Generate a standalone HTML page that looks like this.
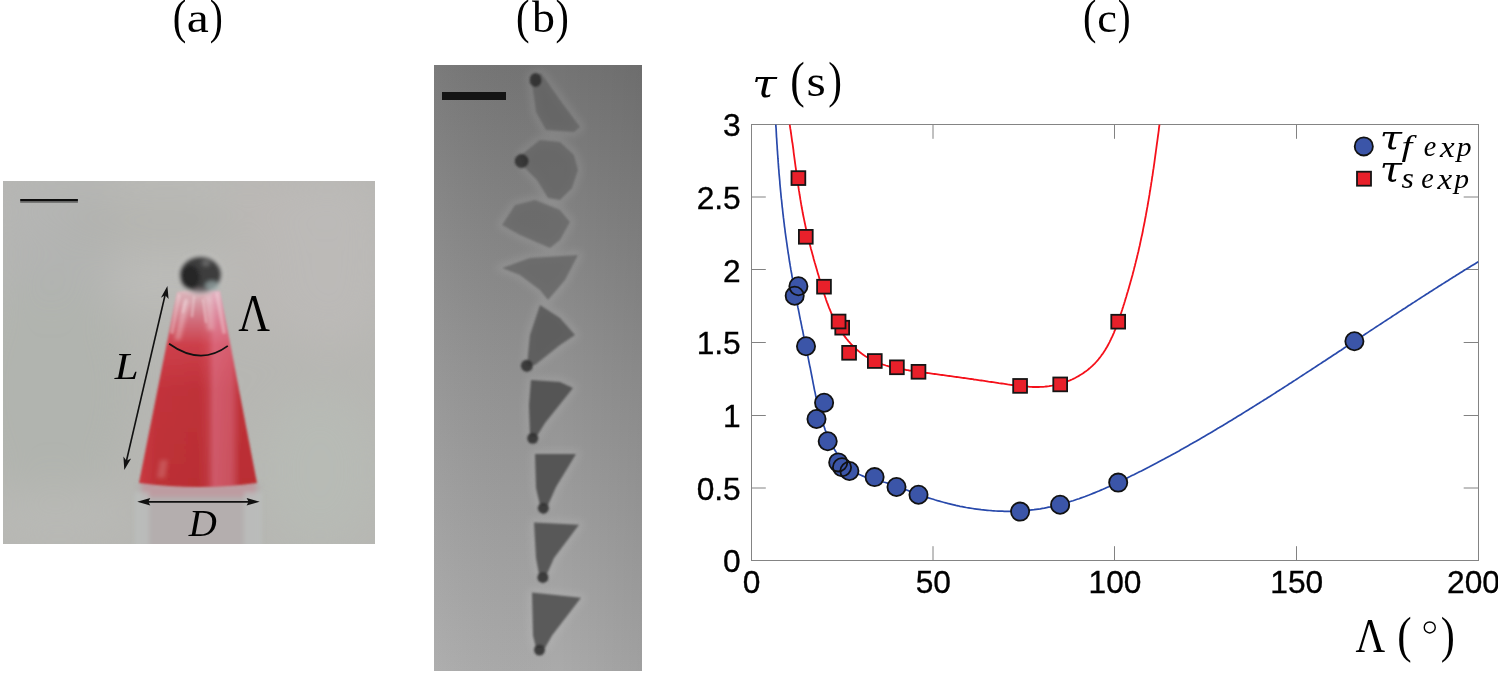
<!DOCTYPE html>
<html><head><meta charset="utf-8"><title>Figure</title>
<style>
html,body{margin:0;padding:0;background:#fff;}
body{width:1498px;height:674px;overflow:hidden;position:relative;}
svg{position:absolute;left:0;top:0;}
</style></head><body>
<svg width="1498" height="674" viewBox="0 0 1498 674">
<defs>
<filter id="bl1" x="-20%" y="-20%" width="140%" height="140%"><feGaussianBlur stdDeviation="1"/></filter>
<filter id="bl2" x="-20%" y="-20%" width="140%" height="140%"><feGaussianBlur stdDeviation="2"/></filter>
<filter id="bl4" x="-50%" y="-50%" width="200%" height="200%"><feGaussianBlur stdDeviation="4"/></filter>
<filter id="bl10" x="-50%" y="-50%" width="200%" height="200%"><feGaussianBlur stdDeviation="20"/></filter>
<clipPath id="clipA"><rect x="3" y="181" width="372" height="363"/></clipPath>
<clipPath id="clipB"><rect x="434" y="65" width="208" height="606"/></clipPath>
<linearGradient id="coneV" x1="0" y1="290" x2="0" y2="490" gradientUnits="userSpaceOnUse"><stop offset="0" stop-color="#dcc0c4"/><stop offset="0.075" stop-color="#d4939e"/><stop offset="0.16" stop-color="#d06a78"/><stop offset="0.275" stop-color="#cc3f4a"/><stop offset="0.5" stop-color="#bf3139"/><stop offset="1" stop-color="#b92e33"/></linearGradient>
<linearGradient id="coneH" x1="139" y1="0" x2="257" y2="0" gradientUnits="userSpaceOnUse"><stop offset="0" stop-color="#ff6070" stop-opacity="0.22"/><stop offset="0.15" stop-color="#ff6070" stop-opacity="0.05"/><stop offset="0.5" stop-color="#ff6070" stop-opacity="0.0"/><stop offset="0.58" stop-color="#f0a0c0" stop-opacity="0.1"/><stop offset="0.64" stop-color="#f0a0c0" stop-opacity="0.38"/><stop offset="0.78" stop-color="#f0a0c0" stop-opacity="0.3"/><stop offset="0.86" stop-color="#f0a0c0" stop-opacity="0.0"/><stop offset="1" stop-color="#ff6070" stop-opacity="0.0"/></linearGradient>
<linearGradient id="bgB" x1="0" y1="65" x2="0" y2="671" gradientUnits="userSpaceOnUse"><stop offset="0" stop-color="#747474"/><stop offset="0.5" stop-color="#919191"/><stop offset="1" stop-color="#aaaaaa"/></linearGradient>
<linearGradient id="bgBh" x1="434" y1="0" x2="642" y2="0" gradientUnits="userSpaceOnUse"><stop offset="0" stop-color="#ffffff" stop-opacity="0.05"/><stop offset="0.6" stop-color="#000000" stop-opacity="0"/><stop offset="1" stop-color="#000000" stop-opacity="0.06"/></linearGradient>
</defs>
<g clip-path="url(#clipA)">
<rect x="3" y="181" width="372" height="363" fill="#b7b7b3"/>
<g filter="url(#bl10)">
<ellipse cx="50" cy="390" rx="80" ry="120" fill="#aeb2ac" opacity="0.6"/>
<rect x="3" y="181" width="372" height="45" fill="#bcbcb8" opacity="0.6"/>
<rect x="115" y="175" width="115" height="130" fill="#bebebb" opacity="0.7"/>
<rect x="0" y="175" width="110" height="120" fill="#b0b3b3" opacity="0.6"/>
<rect x="235" y="175" width="145" height="160" fill="#bcb7b5" opacity="0.6"/>
<ellipse cx="150" cy="225" rx="90" ry="30" fill="#b0b0ac" opacity="0.7"/>
<ellipse cx="330" cy="260" rx="60" ry="90" fill="#bdbab8" opacity="0.8"/>
<ellipse cx="320" cy="470" rx="60" ry="80" fill="#b8bbb5" opacity="0.8"/>
<ellipse cx="60" cy="515" rx="70" ry="30" fill="#b9bab6" opacity="0.8"/>
</g>
<g filter="url(#bl2)">
<path d="M138,484 L260,484 L260,548 L138,548 Z" fill="#b4aeae"/>
<path d="M142,482 L256,482 L256,497 L142,497 Z" fill="#c0959c" opacity="0.75"/>
<rect x="135" y="492" width="14" height="56" fill="#bcc0bf" opacity="0.7"/>
<rect x="244" y="492" width="18" height="56" fill="#bcc0bf" opacity="0.7"/>
</g>
<g filter="url(#bl1)">
<path d="M177,292 Q199,287 220,291 L257,483 Q199,491 139,483 Z" fill="url(#coneV)"/>
<path d="M177,292 Q199,287 220,291 L257,483 Q199,491 139,483 Z" fill="url(#coneH)"/>
</g>
<g filter="url(#bl2)" opacity="0.55">
<path d="M183,300 L190,300 L180,340 L175,340 Z" fill="#ffffff" opacity="0.6"/>
<path d="M205,296 L212,296 L214,330 L207,330 Z" fill="#ffffff" opacity="0.5"/>
<path d="M160,460 L168,460 L165,478 L157,478 Z" fill="#ffffff" opacity="0.3"/>
</g>
<g filter="url(#bl1)" opacity="0.35" stroke="#f4e4e6" fill="none" stroke-linecap="round">
<path d="M179,296 L172,332" stroke-width="4"/>
<path d="M217,294 L224,332" stroke-width="4"/>
<path d="M194,297 L192,316" stroke-width="3"/>
<path d="M203,300 L206,322" stroke-width="2.5"/>
<path d="M186,300 L183,312" stroke-width="2.5"/>
</g>
<g filter="url(#bl2)">
<ellipse cx="200.5" cy="274" rx="24" ry="21" fill="#cfcfcd" opacity="0.45"/>
<ellipse cx="200.5" cy="274.5" rx="21" ry="18" fill="#3c3c3e"/>
<ellipse cx="190" cy="277" rx="10" ry="12" fill="#232325" opacity="0.9"/>
<ellipse cx="206" cy="263" rx="4" ry="3" fill="#8a8a8a" opacity="0.6"/>
<ellipse cx="212" cy="286" rx="7" ry="5" fill="#9fb0b0" opacity="0.7"/>
<ellipse cx="200" cy="291" rx="8" ry="3" fill="#b0a0a4" opacity="0.5"/>
</g>
</g>
<rect x="20.2" y="199" width="57.7" height="2.4" fill="#0d0d0d"/>
<rect x="20.2" y="201.4" width="57.7" height="1.4" fill="#555" opacity="0.8"/>
<line x1="126.3" y1="461.5" x2="165.2" y2="294.5" stroke="#111" stroke-width="1.6"/>
<path d="M167.4,285.9 L160.9,297.8 L165.2,295.2 L168.6,299 Z" fill="#111"/>
<path d="M124.3,470 L123.4,456.6 L126.5,460.8 L131.1,458.6 Z" fill="#111"/>
<line x1="146" y1="501.8" x2="251" y2="501.8" stroke="#111" stroke-width="1.8"/>
<path d="M137.2,501.8 L150.3,498 L148.3,501.8 L150.3,505.6 Z" fill="#111"/>
<path d="M259.7,501.8 L246.6,498 L248.6,501.8 L246.6,505.6 Z" fill="#111"/>
<path d="M169.1,343.8 Q200.55,366.35 227.8,345.9" fill="none" stroke="#111" stroke-width="1.8"/>
<g clip-path="url(#clipB)">
<rect x="434" y="65" width="208" height="606" fill="url(#bgB)"/>
<rect x="434" y="65" width="208" height="606" fill="url(#bgBh)"/>
<g filter="url(#bl4)" opacity="0.13">
<path d="M531,76 L541,73 L560,100 L580,127 L574,132 L546,130 L536,112 Z" fill="none" stroke="#ffffff" stroke-width="6"/>
<path d="M521,155 L540,140 L560,142 L574,155 L578,170 L572,188 L560,200 L548,198 L537,180 L525,168 Z" fill="none" stroke="#ffffff" stroke-width="6"/>
<path d="M502,225 L515,205 L535,200 L560,210 L570,222 L560,240 L550,248 L520,235 Z" fill="none" stroke="#ffffff" stroke-width="6"/>
<path d="M502,268 L530,258 L578,255 L565,280 L548,300 L540,290 L520,275 Z" fill="none" stroke="#ffffff" stroke-width="6"/>
<path d="M540,305 L560,318 L575,335 L560,345 L535,365 L527,365 L530,335 Z" fill="none" stroke="#ffffff" stroke-width="6"/>
<path d="M531,380 L560,382 L573,388 L545,423 L537,436 L530,436 L529,405 Z" fill="none" stroke="#ffffff" stroke-width="6"/>
<path d="M535,454 L576,454 L556,487 L548,505 L540,505 L536,488 Z" fill="none" stroke="#ffffff" stroke-width="6"/>
<path d="M534,522.5 L579,524.7 L554,558 L547,574 L539,574 L536,558 Z" fill="none" stroke="#ffffff" stroke-width="6"/>
<path d="M532,592.5 L581,597.8 L552,635.5 L545,648 L536,648 L533,635.5 Z" fill="none" stroke="#ffffff" stroke-width="6"/>
</g>
<g filter="url(#bl1)">
<path d="M531,76 L541,73 L560,100 L580,127 L574,132 L546,130 L536,112 Z" fill="#5e5e5e" opacity="0.70"/>
<path d="M521,155 L540,140 L560,142 L574,155 L578,170 L572,188 L560,200 L548,198 L537,180 L525,168 Z" fill="#626262" opacity="0.75"/>
<path d="M502,225 L515,205 L535,200 L560,210 L570,222 L560,240 L550,248 L520,235 Z" fill="#666666" opacity="0.80"/>
<path d="M502,268 L530,258 L578,255 L565,280 L548,300 L540,290 L520,275 Z" fill="#666666" opacity="0.85"/>
<path d="M540,305 L560,318 L575,335 L560,345 L535,365 L527,365 L530,335 Z" fill="#5a5a5a" opacity="0.90"/>
<path d="M531,380 L560,382 L573,388 L545,423 L537,436 L530,436 L529,405 Z" fill="#555555" opacity="1.00"/>
<path d="M535,454 L576,454 L556,487 L548,505 L540,505 L536,488 Z" fill="#555555" opacity="1.00"/>
<path d="M534,522.5 L579,524.7 L554,558 L547,574 L539,574 L536,558 Z" fill="#585858" opacity="1.00"/>
<path d="M532,592.5 L581,597.8 L552,635.5 L545,648 L536,648 L533,635.5 Z" fill="#5a5a5a" opacity="1.00"/>
<ellipse cx="535.6" cy="80.0" rx="6.0" ry="7.0" fill="#303030" opacity="0.9"/>
<ellipse cx="521.7" cy="161.1" rx="7.0" ry="7.0" fill="#303030" opacity="0.9"/>
<ellipse cx="526.9" cy="365.7" rx="6.0" ry="6.0" fill="#303030" opacity="0.9"/>
<ellipse cx="532.7" cy="438.3" rx="5.5" ry="5.5" fill="#303030" opacity="0.9"/>
<ellipse cx="543.4" cy="508.2" rx="5.5" ry="5.5" fill="#303030" opacity="0.9"/>
<ellipse cx="542.9" cy="577.4" rx="5.5" ry="5.5" fill="#303030" opacity="0.9"/>
<ellipse cx="539.5" cy="650.0" rx="5.5" ry="5.5" fill="#303030" opacity="0.9"/>
</g>
</g>
<rect x="442" y="92" width="64" height="8" fill="#141414"/>
<path d="M933.00,560.50V546.20 M933.00,124.50V138.80 M1114.50,560.50V546.20 M1114.50,124.50V138.80 M1296.50,560.50V546.20 M1296.50,124.50V138.80 M751.50,488.00H765.80 M1478.50,488.00H1463.70 M751.50,415.50H765.80 M1478.50,415.50H1463.70 M751.50,342.50H765.80 M1478.50,342.50H1463.70 M751.50,269.50H765.80 M1478.50,269.50H1463.70 M751.50,197.00H765.80 M1478.50,197.00H1463.70" stroke="#828282" stroke-width="1" fill="none"/>
<rect x="751.50" y="124.50" width="727.00" height="436.00" fill="none" stroke="#848484" stroke-width="1"/>
<clipPath id="clp"><rect x="751.50" y="124.50" width="727.00" height="436.00"/></clipPath>
<path d="M775.8,124.3 L775.9,126.4 L776.1,128.5 L776.2,130.7 L776.3,132.8 L776.4,134.9 L776.5,137.0 L776.7,139.1 L776.8,141.3 L776.9,143.4 L777.1,145.5 L777.2,147.6 L777.3,149.7 L777.5,151.8 L777.6,154.0 L777.8,156.1 L777.9,158.2 L778.1,160.3 L778.2,162.4 L778.4,164.6 L778.5,166.7 L778.7,168.8 L778.9,170.9 L779.0,173.0 L779.2,175.1 L779.4,177.2 L779.6,179.4 L779.8,181.5 L779.9,183.6 L780.1,185.7 L780.3,187.8 L780.5,189.9 L780.7,192.0 L780.9,194.2 L781.1,196.3 L781.3,198.4 L781.6,200.5 L781.8,202.6 L782.0,204.7 L782.2,206.8 L782.5,208.9 L782.7,211.0 L782.9,213.1 L783.2,215.3 L783.4,217.4 L783.7,219.5 L783.9,221.6 L784.2,223.7 L784.4,225.8 L784.7,227.9 L785.0,230.0 L785.2,232.1 L785.5,234.2 L785.8,236.3 L786.1,238.4 L786.4,240.5 L786.7,242.6 L787.0,244.7 L787.3,246.8 L787.6,248.9 L787.9,251.0 L788.2,253.1 L788.6,255.2 L788.9,257.3 L789.2,259.4 L789.5,261.5 L789.9,263.6 L790.2,265.7 L790.6,267.8 L790.9,269.9 L791.3,272.0 L791.7,274.0 L792.0,276.1 L792.4,278.2 L792.8,280.3 L793.2,282.4 L793.5,284.5 L793.9,286.6 L794.3,288.7 L794.7,290.8 L795.1,292.8 L795.5,294.9 L795.9,297.0 L796.3,299.1 L796.7,301.2 L797.1,303.3 L797.5,305.3 L797.9,307.4 L798.4,309.5 L798.8,311.6 L799.2,313.7 L799.6,315.8 L800.0,317.8 L800.4,319.9 L800.9,322.0 L801.3,324.1 L801.7,326.2 L802.1,328.2 L802.6,330.3 L803.0,332.4 L803.4,334.5 L803.8,336.6 L804.3,338.6 L804.7,340.7 L805.1,342.8 L805.5,344.9 L806.0,346.9 L806.4,349.0 L806.8,351.1 L807.2,353.2 L807.7,355.3 L808.1,357.3 L808.5,359.4 L808.9,361.5 L809.3,363.6 L809.7,365.6 L810.2,367.7 L810.6,369.8 L811.0,371.9 L811.4,374.0 L811.8,376.0 L812.2,378.1 L812.6,380.2 L813.0,382.3 L813.4,384.3 L813.8,386.4 L814.2,388.5 L814.6,390.6 L815.1,392.6 L815.5,394.7 L815.9,396.8 L816.4,398.9 L816.8,400.9 L817.3,403.0 L817.8,405.0 L818.3,407.1 L818.8,409.2 L819.4,411.2 L819.9,413.3 L820.5,415.3 L821.1,417.4 L821.7,419.4 L822.3,421.5 L823.0,423.5 L823.7,425.5 L824.4,427.6 L825.1,429.6 L825.9,431.6 L826.7,433.6 L827.5,435.6 L828.4,437.6 L829.3,439.6 L830.2,441.6 L831.2,443.5 L832.2,445.4 L833.2,447.3 L834.3,449.2 L835.4,451.0 L836.5,452.8 L837.7,454.6 L838.9,456.3 L840.2,458.0 L841.5,459.7 L842.8,461.3 L844.2,462.8 L845.6,464.3 L847.1,465.8 L848.6,467.2 L850.2,468.5 L851.8,469.8 L853.5,471.0 L855.2,472.1 L856.9,473.2 L858.8,474.2 L860.6,475.1 L862.5,475.9 L864.5,476.7 L866.5,477.4 L868.6,478.0 L870.6,478.7 L872.7,479.2 L874.9,479.8 L877.0,480.3 L879.1,480.9 L881.2,481.4 L883.3,482.0 L885.4,482.5 L887.5,483.1 L889.5,483.8 L891.6,484.5 L893.6,485.1 L895.6,485.9 L897.6,486.6 L899.5,487.3 L901.5,488.1 L903.5,488.8 L905.4,489.6 L907.4,490.3 L909.4,491.1 L911.4,491.8 L913.3,492.5 L915.3,493.3 L917.3,494.0 L919.3,494.7 L921.3,495.4 L923.3,496.1 L925.3,496.7 L927.3,497.4 L929.3,498.1 L931.3,498.7 L933.3,499.3 L935.4,500.0 L937.4,500.6 L939.4,501.1 L941.5,501.7 L943.5,502.3 L945.6,502.8 L947.6,503.4 L949.7,503.9 L951.7,504.4 L953.8,504.9 L955.9,505.4 L958.0,505.8 L960.0,506.3 L962.1,506.7 L964.2,507.1 L966.3,507.5 L968.4,507.8 L970.5,508.2 L972.6,508.5 L974.7,508.8 L976.8,509.1 L979.0,509.4 L981.1,509.7 L983.2,509.9 L985.3,510.1 L987.4,510.3 L989.6,510.5 L991.7,510.7 L993.8,510.8 L995.9,511.0 L998.1,511.1 L1000.2,511.2 L1002.3,511.2 L1004.4,511.3 L1006.6,511.3 L1008.7,511.3 L1010.8,511.3 L1012.9,511.2 L1015.0,511.2 L1017.2,511.1 L1019.3,511.0 L1021.4,510.9 L1023.5,510.7 L1025.6,510.6 L1027.7,510.4 L1029.8,510.2 L1031.9,509.9 L1034.0,509.7 L1036.1,509.4 L1038.2,509.1 L1040.3,508.8 L1042.4,508.4 L1044.4,508.1 L1046.5,507.7 L1048.6,507.2 L1050.6,506.8 L1052.7,506.3 L1054.7,505.9 L1056.8,505.4 L1058.8,504.8 L1060.9,504.3 L1062.9,503.8 L1064.9,503.2 L1067.0,502.6 L1069.0,502.0 L1071.0,501.3 L1073.0,500.7 L1075.1,500.0 L1077.1,499.3 L1079.1,498.7 L1081.1,497.9 L1083.1,497.2 L1085.1,496.5 L1087.1,495.7 L1089.0,495.0 L1091.0,494.2 L1093.0,493.4 L1095.0,492.6 L1097.0,491.8 L1098.9,491.0 L1100.9,490.1 L1102.9,489.3 L1104.8,488.4 L1106.8,487.5 L1108.7,486.7 L1110.7,485.8 L1112.6,484.9 L1114.6,484.0 L1116.5,483.1 L1118.4,482.2 L1120.4,481.3 L1122.3,480.3 L1124.2,479.4 L1126.2,478.5 L1128.1,477.5 L1130.0,476.6 L1131.9,475.6 L1133.8,474.7 L1135.7,473.7 L1137.6,472.8 L1139.5,471.8 L1141.4,470.9 L1143.3,469.9 L1145.2,468.9 L1147.1,467.9 L1149.0,467.0 L1150.9,466.0 L1152.8,465.0 L1154.7,464.0 L1156.6,463.0 L1158.4,462.0 L1160.3,461.0 L1162.2,460.0 L1164.1,459.0 L1165.9,458.0 L1167.8,457.0 L1169.7,456.0 L1171.5,455.0 L1173.4,453.9 L1175.3,452.9 L1177.1,451.9 L1179.0,450.9 L1180.8,449.8 L1182.7,448.8 L1184.5,447.8 L1186.4,446.7 L1188.2,445.7 L1190.1,444.6 L1191.9,443.6 L1193.7,442.5 L1195.6,441.5 L1197.4,440.4 L1199.2,439.4 L1201.1,438.3 L1202.9,437.2 L1204.7,436.2 L1206.6,435.1 L1208.4,434.0 L1210.2,433.0 L1212.0,431.9 L1213.9,430.8 L1215.7,429.7 L1217.5,428.6 L1219.3,427.6 L1221.1,426.5 L1222.9,425.4 L1224.8,424.3 L1226.6,423.2 L1228.4,422.1 L1230.2,421.0 L1232.0,419.9 L1233.8,418.8 L1235.6,417.7 L1237.4,416.6 L1239.2,415.5 L1241.0,414.4 L1242.8,413.3 L1244.6,412.1 L1246.4,411.0 L1248.2,409.9 L1250.0,408.8 L1251.8,407.7 L1253.6,406.6 L1255.4,405.4 L1257.2,404.3 L1259.0,403.2 L1260.8,402.1 L1262.6,400.9 L1264.4,399.8 L1266.2,398.7 L1268.0,397.5 L1269.8,396.4 L1271.6,395.3 L1273.4,394.1 L1275.2,393.0 L1276.9,391.8 L1278.7,390.7 L1280.5,389.6 L1282.3,388.4 L1284.1,387.3 L1285.9,386.1 L1287.7,385.0 L1289.4,383.8 L1291.2,382.7 L1293.0,381.5 L1294.8,380.4 L1296.6,379.2 L1298.3,378.1 L1300.1,376.9 L1301.9,375.7 L1303.7,374.6 L1305.5,373.4 L1307.2,372.3 L1309.0,371.1 L1310.8,370.0 L1312.6,368.8 L1314.4,367.6 L1316.1,366.5 L1317.9,365.3 L1319.7,364.1 L1321.5,363.0 L1323.2,361.8 L1325.0,360.7 L1326.8,359.5 L1328.6,358.3 L1330.3,357.2 L1332.1,356.0 L1333.9,354.8 L1335.7,353.7 L1337.4,352.5 L1339.2,351.3 L1341.0,350.2 L1342.8,349.0 L1344.5,347.8 L1346.3,346.6 L1348.1,345.5 L1349.8,344.3 L1351.6,343.1 L1353.4,342.0 L1355.2,340.8 L1356.9,339.6 L1358.7,338.5 L1360.5,337.3 L1362.3,336.1 L1364.0,335.0 L1365.8,333.8 L1367.6,332.6 L1369.4,331.4 L1371.1,330.3 L1372.9,329.1 L1374.7,327.9 L1376.4,326.8 L1378.2,325.6 L1380.0,324.4 L1381.8,323.3 L1383.5,322.1 L1385.3,320.9 L1387.1,319.8 L1388.9,318.6 L1390.7,317.5 L1392.4,316.3 L1394.2,315.1 L1396.0,314.0 L1397.8,312.8 L1399.5,311.6 L1401.3,310.5 L1403.1,309.3 L1404.9,308.2 L1406.7,307.0 L1408.4,305.8 L1410.2,304.7 L1412.0,303.5 L1413.8,302.4 L1415.6,301.2 L1417.3,300.1 L1419.1,298.9 L1420.9,297.8 L1422.7,296.6 L1424.5,295.5 L1426.3,294.3 L1428.1,293.2 L1429.8,292.0 L1431.6,290.9 L1433.4,289.8 L1435.2,288.6 L1437.0,287.5 L1438.8,286.3 L1440.6,285.2 L1442.4,284.1 L1444.2,282.9 L1446.0,281.8 L1447.8,280.7 L1449.6,279.5 L1451.3,278.4 L1453.1,277.3 L1454.9,276.2 L1456.7,275.0 L1458.5,273.9 L1460.3,272.8 L1462.1,271.7 L1463.9,270.6 L1465.7,269.4 L1467.6,268.3 L1469.4,267.2 L1471.2,266.1 L1473.0,265.0 L1474.8,263.9 L1476.6,262.8 L1478.4,261.7" fill="none" stroke="#2849ab" stroke-width="1.7" clip-path="url(#clp)"/>
<path d="M789.7,124.3 L789.9,125.8 L790.1,127.2 L790.3,128.7 L790.6,130.1 L790.8,131.6 L791.0,133.0 L791.2,134.5 L791.4,135.9 L791.6,137.4 L791.8,138.8 L792.0,140.3 L792.2,141.8 L792.5,143.2 L792.7,144.7 L792.9,146.2 L793.1,147.6 L793.3,149.1 L793.5,150.6 L793.6,152.0 L793.8,153.5 L794.0,155.0 L794.2,156.5 L794.4,157.9 L794.6,159.4 L794.8,160.9 L795.0,162.3 L795.2,163.8 L795.4,165.3 L795.6,166.8 L795.8,168.2 L796.0,169.7 L796.2,171.2 L796.4,172.7 L796.6,174.1 L796.8,175.6 L797.0,177.1 L797.2,178.6 L797.4,180.0 L797.6,181.5 L797.9,183.0 L798.1,184.5 L798.3,185.9 L798.5,187.4 L798.7,188.9 L798.9,190.4 L799.2,191.8 L799.4,193.3 L799.6,194.8 L799.9,196.2 L800.1,197.7 L800.3,199.2 L800.6,200.6 L800.8,202.1 L801.1,203.6 L801.3,205.0 L801.6,206.5 L801.8,208.0 L802.1,209.4 L802.4,210.9 L802.6,212.3 L802.9,213.8 L803.2,215.2 L803.5,216.7 L803.8,218.1 L804.1,219.6 L804.4,221.0 L804.7,222.5 L805.0,223.9 L805.3,225.4 L805.6,226.8 L805.9,228.3 L806.2,229.7 L806.6,231.1 L806.9,232.6 L807.3,234.0 L807.6,235.4 L807.9,236.9 L808.3,238.3 L808.6,239.7 L809.0,241.2 L809.4,242.6 L809.7,244.0 L810.1,245.4 L810.5,246.9 L810.8,248.3 L811.2,249.7 L811.6,251.1 L812.0,252.6 L812.4,254.0 L812.8,255.4 L813.2,256.8 L813.5,258.3 L813.9,259.7 L814.3,261.1 L814.7,262.5 L815.2,263.9 L815.6,265.4 L816.0,266.8 L816.4,268.2 L816.8,269.6 L817.2,271.1 L817.6,272.5 L818.0,273.9 L818.5,275.3 L818.9,276.7 L819.3,278.2 L819.7,279.6 L820.2,281.0 L820.6,282.5 L821.0,283.9 L821.4,285.3 L821.9,286.7 L822.3,288.2 L822.8,289.6 L823.2,291.0 L823.7,292.4 L824.1,293.8 L824.6,295.3 L825.1,296.7 L825.6,298.1 L826.0,299.5 L826.5,300.9 L827.0,302.3 L827.6,303.7 L828.1,305.1 L828.6,306.5 L829.1,307.9 L829.7,309.2 L830.3,310.6 L830.8,312.0 L831.4,313.3 L832.0,314.7 L832.7,316.0 L833.3,317.4 L833.9,318.7 L834.6,320.0 L835.3,321.4 L836.0,322.7 L836.7,324.0 L837.4,325.3 L838.1,326.5 L838.9,327.8 L839.7,329.1 L840.5,330.3 L841.3,331.6 L842.1,332.8 L842.9,334.0 L843.8,335.2 L844.7,336.4 L845.6,337.6 L846.5,338.8 L847.5,339.9 L848.4,341.1 L849.4,342.2 L850.4,343.3 L851.4,344.4 L852.4,345.4 L853.4,346.5 L854.5,347.5 L855.6,348.5 L856.6,349.5 L857.8,350.5 L858.9,351.4 L860.0,352.3 L861.2,353.2 L862.3,354.1 L863.5,354.9 L864.7,355.8 L865.9,356.6 L867.2,357.3 L868.4,358.1 L869.7,358.8 L871.0,359.5 L872.2,360.1 L873.6,360.8 L874.9,361.4 L876.2,362.0 L877.6,362.5 L878.9,363.1 L880.3,363.6 L881.7,364.1 L883.1,364.6 L884.5,365.0 L885.9,365.5 L887.3,365.9 L888.7,366.3 L890.2,366.7 L891.6,367.0 L893.1,367.4 L894.5,367.7 L896.0,368.1 L897.5,368.4 L898.9,368.7 L900.4,369.0 L901.9,369.2 L903.4,369.5 L904.9,369.7 L906.4,370.0 L907.9,370.2 L909.4,370.5 L910.9,370.7 L912.4,370.9 L913.9,371.1 L915.4,371.3 L916.9,371.5 L918.4,371.7 L919.9,372.0 L921.4,372.2 L922.9,372.4 L924.4,372.6 L925.9,372.8 L927.4,373.0 L928.8,373.2 L930.3,373.4 L931.8,373.6 L933.3,373.8 L934.7,374.0 L936.2,374.2 L937.7,374.4 L939.2,374.6 L940.6,374.8 L942.1,375.0 L943.6,375.2 L945.0,375.4 L946.5,375.6 L947.9,375.8 L949.4,376.0 L950.8,376.2 L952.3,376.4 L953.7,376.6 L955.2,376.8 L956.7,377.0 L958.1,377.2 L959.6,377.4 L961.0,377.6 L962.5,377.8 L963.9,378.0 L965.3,378.2 L966.8,378.4 L968.2,378.6 L969.7,378.8 L971.1,379.0 L972.6,379.2 L974.0,379.5 L975.5,379.7 L976.9,379.9 L978.4,380.1 L979.8,380.3 L981.3,380.5 L982.7,380.7 L984.2,380.9 L985.6,381.1 L987.1,381.3 L988.5,381.6 L990.0,381.8 L991.5,382.0 L992.9,382.2 L994.4,382.4 L995.8,382.6 L997.3,382.8 L998.8,383.1 L1000.2,383.3 L1001.7,383.5 L1003.2,383.7 L1004.6,383.9 L1006.1,384.1 L1007.6,384.4 L1009.1,384.6 L1010.6,384.8 L1012.0,385.0 L1013.5,385.2 L1015.0,385.4 L1016.5,385.6 L1018.0,385.8 L1019.5,385.9 L1020.9,386.1 L1022.4,386.3 L1023.9,386.4 L1025.4,386.5 L1026.9,386.6 L1028.4,386.7 L1029.9,386.8 L1031.4,386.9 L1032.8,387.0 L1034.3,387.0 L1035.8,387.0 L1037.3,387.0 L1038.8,387.0 L1040.3,386.9 L1041.7,386.9 L1043.2,386.8 L1044.7,386.7 L1046.2,386.5 L1047.6,386.4 L1049.1,386.2 L1050.6,385.9 L1052.0,385.7 L1053.5,385.4 L1055.0,385.1 L1056.4,384.8 L1057.9,384.4 L1059.3,384.1 L1060.7,383.7 L1062.2,383.2 L1063.6,382.8 L1065.0,382.3 L1066.4,381.8 L1067.8,381.2 L1069.2,380.7 L1070.5,380.1 L1071.9,379.5 L1073.2,378.9 L1074.6,378.2 L1075.9,377.5 L1077.2,376.8 L1078.5,376.1 L1079.8,375.3 L1081.0,374.6 L1082.3,373.8 L1083.5,373.0 L1084.7,372.1 L1085.9,371.3 L1087.1,370.4 L1088.2,369.5 L1089.3,368.5 L1090.4,367.6 L1091.5,366.6 L1092.6,365.6 L1093.6,364.6 L1094.7,363.6 L1095.7,362.5 L1096.6,361.5 L1097.6,360.4 L1098.5,359.3 L1099.4,358.1 L1100.3,357.0 L1101.2,355.8 L1102.0,354.6 L1102.9,353.5 L1103.7,352.2 L1104.5,351.0 L1105.3,349.8 L1106.0,348.5 L1106.8,347.3 L1107.5,346.0 L1108.2,344.7 L1108.9,343.4 L1109.6,342.1 L1110.2,340.7 L1110.9,339.4 L1111.5,338.0 L1112.2,336.7 L1112.8,335.3 L1113.4,333.9 L1114.0,332.6 L1114.5,331.2 L1115.1,329.8 L1115.7,328.4 L1116.2,327.0 L1116.7,325.6 L1117.3,324.1 L1117.8,322.7 L1118.3,321.3 L1118.8,319.9 L1119.3,318.4 L1119.8,317.0 L1120.3,315.6 L1120.7,314.1 L1121.2,312.7 L1121.7,311.3 L1122.2,309.8 L1122.6,308.4 L1123.1,307.0 L1123.5,305.5 L1124.0,304.1 L1124.4,302.7 L1124.9,301.2 L1125.3,299.8 L1125.7,298.4 L1126.2,297.0 L1126.6,295.5 L1127.0,294.1 L1127.4,292.7 L1127.9,291.3 L1128.3,289.8 L1128.7,288.4 L1129.1,287.0 L1129.5,285.6 L1129.9,284.2 L1130.3,282.7 L1130.7,281.3 L1131.1,279.9 L1131.5,278.5 L1131.9,277.1 L1132.3,275.7 L1132.7,274.2 L1133.0,272.8 L1133.4,271.4 L1133.8,270.0 L1134.1,268.6 L1134.5,267.1 L1134.9,265.7 L1135.2,264.3 L1135.6,262.9 L1135.9,261.4 L1136.3,260.0 L1136.7,258.6 L1137.0,257.2 L1137.3,255.7 L1137.7,254.3 L1138.0,252.9 L1138.4,251.5 L1138.7,250.0 L1139.0,248.6 L1139.3,247.2 L1139.7,245.7 L1140.0,244.3 L1140.3,242.8 L1140.6,241.4 L1140.9,240.0 L1141.2,238.5 L1141.5,237.1 L1141.9,235.6 L1142.2,234.2 L1142.5,232.7 L1142.8,231.3 L1143.0,229.8 L1143.3,228.4 L1143.6,226.9 L1143.9,225.5 L1144.2,224.0 L1144.5,222.5 L1144.8,221.1 L1145.0,219.6 L1145.3,218.2 L1145.6,216.7 L1145.9,215.2 L1146.1,213.8 L1146.4,212.3 L1146.7,210.8 L1146.9,209.4 L1147.2,207.9 L1147.5,206.4 L1147.7,205.0 L1148.0,203.5 L1148.2,202.0 L1148.5,200.6 L1148.7,199.1 L1149.0,197.6 L1149.2,196.2 L1149.5,194.7 L1149.7,193.2 L1149.9,191.7 L1150.2,190.3 L1150.4,188.8 L1150.6,187.3 L1150.9,185.9 L1151.1,184.4 L1151.3,182.9 L1151.6,181.4 L1151.8,180.0 L1152.0,178.5 L1152.2,177.0 L1152.5,175.5 L1152.7,174.1 L1152.9,172.6 L1153.1,171.1 L1153.3,169.7 L1153.6,168.2 L1153.8,166.7 L1154.0,165.2 L1154.2,163.8 L1154.4,162.3 L1154.6,160.8 L1154.8,159.4 L1155.0,157.9 L1155.2,156.4 L1155.4,154.9 L1155.6,153.5 L1155.8,152.0 L1156.0,150.5 L1156.2,149.1 L1156.4,147.6 L1156.6,146.2 L1156.8,144.7 L1157.0,143.2 L1157.2,141.8 L1157.4,140.3 L1157.6,138.8 L1157.8,137.4 L1158.0,135.9 L1158.2,134.5 L1158.4,133.0 L1158.6,131.6 L1158.8,130.1 L1158.9,128.7 L1159.1,127.2 L1159.3,125.8 L1159.5,124.3" fill="none" stroke="#f5101a" stroke-width="1.8" clip-path="url(#clp)"/>
<rect x="791.50" y="171.20" width="13.8" height="13.8" fill="#e8202a" stroke="#151515" stroke-width="1.8"/>
<rect x="798.90" y="229.90" width="13.8" height="13.8" fill="#e8202a" stroke="#151515" stroke-width="1.8"/>
<rect x="817.10" y="279.80" width="13.8" height="13.8" fill="#e8202a" stroke="#151515" stroke-width="1.8"/>
<rect x="835.30" y="320.80" width="13.8" height="13.8" fill="#e8202a" stroke="#151515" stroke-width="1.8"/>
<rect x="831.70" y="314.60" width="13.8" height="13.8" fill="#e8202a" stroke="#151515" stroke-width="1.8"/>
<rect x="842.20" y="345.90" width="13.8" height="13.8" fill="#e8202a" stroke="#151515" stroke-width="1.8"/>
<rect x="867.90" y="354.10" width="13.8" height="13.8" fill="#e8202a" stroke="#151515" stroke-width="1.8"/>
<rect x="890.00" y="360.40" width="13.8" height="13.8" fill="#e8202a" stroke="#151515" stroke-width="1.8"/>
<rect x="911.60" y="364.90" width="13.8" height="13.8" fill="#e8202a" stroke="#151515" stroke-width="1.8"/>
<rect x="1013.20" y="379.00" width="13.8" height="13.8" fill="#e8202a" stroke="#151515" stroke-width="1.8"/>
<rect x="1053.30" y="377.50" width="13.8" height="13.8" fill="#e8202a" stroke="#151515" stroke-width="1.8"/>
<rect x="1111.30" y="314.80" width="13.8" height="13.8" fill="#e8202a" stroke="#151515" stroke-width="1.8"/>
<circle cx="798.40" cy="286.20" r="9.1" fill="#3b55a8"/>
<circle cx="794.70" cy="295.80" r="9.1" fill="#3b55a8"/>
<circle cx="806.00" cy="346.20" r="9.1" fill="#3b55a8"/>
<circle cx="824.10" cy="402.70" r="9.1" fill="#3b55a8"/>
<circle cx="816.50" cy="419.00" r="9.1" fill="#3b55a8"/>
<circle cx="827.70" cy="441.30" r="9.1" fill="#3b55a8"/>
<circle cx="838.20" cy="462.40" r="9.1" fill="#3b55a8"/>
<circle cx="842.00" cy="467.20" r="9.1" fill="#3b55a8"/>
<circle cx="849.40" cy="471.00" r="9.1" fill="#3b55a8"/>
<circle cx="874.60" cy="477.10" r="9.1" fill="#3b55a8"/>
<circle cx="896.50" cy="487.00" r="9.1" fill="#3b55a8"/>
<circle cx="918.50" cy="494.80" r="9.1" fill="#3b55a8"/>
<circle cx="1020.10" cy="511.60" r="9.1" fill="#3b55a8"/>
<circle cx="1060.10" cy="504.80" r="9.1" fill="#3b55a8"/>
<circle cx="1118.20" cy="482.60" r="9.1" fill="#3b55a8"/>
<circle cx="1354.40" cy="341.20" r="9.1" fill="#3b55a8"/>
<circle cx="798.40" cy="286.20" r="9.1" fill="none" stroke="#111" stroke-width="1.8"/>
<circle cx="794.70" cy="295.80" r="9.1" fill="none" stroke="#111" stroke-width="1.8"/>
<circle cx="806.00" cy="346.20" r="9.1" fill="none" stroke="#111" stroke-width="1.8"/>
<circle cx="824.10" cy="402.70" r="9.1" fill="none" stroke="#111" stroke-width="1.8"/>
<circle cx="816.50" cy="419.00" r="9.1" fill="none" stroke="#111" stroke-width="1.8"/>
<circle cx="827.70" cy="441.30" r="9.1" fill="none" stroke="#111" stroke-width="1.8"/>
<circle cx="838.20" cy="462.40" r="9.1" fill="none" stroke="#111" stroke-width="1.8"/>
<circle cx="842.00" cy="467.20" r="9.1" fill="none" stroke="#111" stroke-width="1.8"/>
<circle cx="849.40" cy="471.00" r="9.1" fill="none" stroke="#111" stroke-width="1.8"/>
<circle cx="874.60" cy="477.10" r="9.1" fill="none" stroke="#111" stroke-width="1.8"/>
<circle cx="896.50" cy="487.00" r="9.1" fill="none" stroke="#111" stroke-width="1.8"/>
<circle cx="918.50" cy="494.80" r="9.1" fill="none" stroke="#111" stroke-width="1.8"/>
<circle cx="1020.10" cy="511.60" r="9.1" fill="none" stroke="#111" stroke-width="1.8"/>
<circle cx="1060.10" cy="504.80" r="9.1" fill="none" stroke="#111" stroke-width="1.8"/>
<circle cx="1118.20" cy="482.60" r="9.1" fill="none" stroke="#111" stroke-width="1.8"/>
<circle cx="1354.40" cy="341.20" r="9.1" fill="none" stroke="#111" stroke-width="1.8"/>
<circle cx="1363.8" cy="146.4" r="9.1" fill="#3b55a8" stroke="#111" stroke-width="1.8"/>
<rect x="1357.00" y="171.70" width="14" height="14" fill="#e8202a" stroke="#151515" stroke-width="1.8"/>
<text x="740.7" y="572.40" text-anchor="end" style="font-family:'Liberation Sans',Arial,Helvetica,sans-serif;stroke:#000;stroke-width:0.35px;font-size:31.7px">0</text>
<text x="740.7" y="499.73" text-anchor="end" style="font-family:'Liberation Sans',Arial,Helvetica,sans-serif;stroke:#000;stroke-width:0.35px;font-size:31.7px">0.5</text>
<text x="740.7" y="427.07" text-anchor="end" style="font-family:'Liberation Sans',Arial,Helvetica,sans-serif;stroke:#000;stroke-width:0.35px;font-size:31.7px">1</text>
<text x="740.7" y="354.40" text-anchor="end" style="font-family:'Liberation Sans',Arial,Helvetica,sans-serif;stroke:#000;stroke-width:0.35px;font-size:31.7px">1.5</text>
<text x="740.7" y="281.73" text-anchor="end" style="font-family:'Liberation Sans',Arial,Helvetica,sans-serif;stroke:#000;stroke-width:0.35px;font-size:31.7px">2</text>
<text x="740.7" y="209.07" text-anchor="end" style="font-family:'Liberation Sans',Arial,Helvetica,sans-serif;stroke:#000;stroke-width:0.35px;font-size:31.7px">2.5</text>
<text x="740.7" y="136.40" text-anchor="end" style="font-family:'Liberation Sans',Arial,Helvetica,sans-serif;stroke:#000;stroke-width:0.35px;font-size:31.7px">3</text>
<text x="751.50" y="592.5" text-anchor="middle" style="font-family:'Liberation Sans',Arial,Helvetica,sans-serif;stroke:#000;stroke-width:0.35px;font-size:31.7px">0</text>
<text x="933.25" y="592.5" text-anchor="middle" style="font-family:'Liberation Sans',Arial,Helvetica,sans-serif;stroke:#000;stroke-width:0.35px;font-size:31.7px">50</text>
<text x="1115.00" y="592.5" text-anchor="middle" style="font-family:'Liberation Sans',Arial,Helvetica,sans-serif;stroke:#000;stroke-width:0.35px;font-size:31.7px">100</text>
<text x="1296.75" y="592.5" text-anchor="middle" style="font-family:'Liberation Sans',Arial,Helvetica,sans-serif;stroke:#000;stroke-width:0.35px;font-size:31.7px">150</text>
<text x="1473.50" y="592.5" text-anchor="middle" style="font-family:'Liberation Sans',Arial,Helvetica,sans-serif;stroke:#000;stroke-width:0.35px;font-size:31.7px">200</text>
<text transform="translate(751.89,96.60) scale(1.1254,1)" style="font-family:'DejaVu Serif',serif;font-style:italic;font-size:39.81px">τ</text>
<text transform="translate(790.24,96.71) scale(0.8629,1)" style="font-family:'Liberation Serif','Times New Roman',serif;font-size:50.44px">(</text>
<text transform="translate(806.62,96.36) scale(1.1213,1)" style="font-family:'Liberation Serif','Times New Roman',serif;font-size:44.17px">s</text>
<text transform="translate(828.27,96.71) scale(0.8158,1)" style="font-family:'Liberation Serif','Times New Roman',serif;font-size:50.44px">)</text>
<text transform="translate(1355.49,651.60) scale(0.8287,1)" style="font-family:'Liberation Serif','Times New Roman',serif;font-size:49.47px">Λ</text>
<text transform="translate(1397.36,652.41) scale(0.8477,1)" style="font-family:'Liberation Serif','Times New Roman',serif;font-size:50.89px">(</text>
<text transform="translate(1440.83,652.41) scale(0.8314,1)" style="font-family:'Liberation Serif','Times New Roman',serif;font-size:50.89px">)</text>
<circle cx="1429.75" cy="627.45" r="5.5" fill="none" stroke="#000" stroke-width="1.4"/>
<text transform="translate(1379.69,150.03) scale(1.1725,1)" style="font-family:'DejaVu Serif',serif;font-style:italic;font-size:34.29px">τ</text>
<text transform="translate(1401.61,155.71) scale(1.3654,1)" style="font-family:'Liberation Serif','Times New Roman',serif;font-style:italic;font-size:28.52px">f</text>
<text transform="translate(1423.85,156.21) scale(0.9882,1)" style="font-family:'Liberation Serif','Times New Roman',serif;font-style:italic;font-size:28.54px">e</text>
<text transform="translate(1440.03,156.50) scale(1.0971,1)" style="font-family:'Liberation Serif','Times New Roman',serif;font-style:italic;font-size:30.11px">x</text>
<text transform="translate(1456.78,155.72) scale(1.0772,1)" style="font-family:'Liberation Serif','Times New Roman',serif;font-style:italic;font-size:27.50px">p</text>
<text transform="translate(1379.69,182.22) scale(1.1470,1)" style="font-family:'DejaVu Serif',serif;font-style:italic;font-size:35.05px">τ</text>
<text transform="translate(1401.52,188.41) scale(1.1171,1)" style="font-family:'Liberation Serif','Times New Roman',serif;font-style:italic;font-size:28.54px">s</text>
<text transform="translate(1421.25,188.41) scale(0.9882,1)" style="font-family:'Liberation Serif','Times New Roman',serif;font-style:italic;font-size:28.54px">e</text>
<text transform="translate(1437.43,188.70) scale(1.0971,1)" style="font-family:'Liberation Serif','Times New Roman',serif;font-style:italic;font-size:30.11px">x</text>
<text transform="translate(1454.18,187.92) scale(1.0772,1)" style="font-family:'Liberation Serif','Times New Roman',serif;font-style:italic;font-size:27.50px">p</text>
<text transform="translate(172.66,32.54) scale(0.8267,1)" style="font-family:'Liberation Serif','Times New Roman',serif;font-size:49.33px">(</text>
<text transform="translate(186.86,32.17) scale(1.1554,1)" style="font-family:'Liberation Serif','Times New Roman',serif;font-size:42.95px">a</text>
<text transform="translate(209.82,32.54) scale(0.7952,1)" style="font-family:'Liberation Serif','Times New Roman',serif;font-size:49.33px">)</text>
<text transform="translate(515.96,32.54) scale(0.8267,1)" style="font-family:'Liberation Serif','Times New Roman',serif;font-size:49.33px">(</text>
<text transform="translate(531.90,32.17) scale(1.0562,1)" style="font-family:'Liberation Serif','Times New Roman',serif;font-size:43.43px">b</text>
<text transform="translate(555.50,32.54) scale(0.8108,1)" style="font-family:'Liberation Serif','Times New Roman',serif;font-size:49.33px">)</text>
<text transform="translate(1083.08,32.54) scale(0.8188,1)" style="font-family:'Liberation Serif','Times New Roman',serif;font-size:49.33px">(</text>
<text transform="translate(1097.13,32.17) scale(1.0416,1)" style="font-family:'Liberation Serif','Times New Roman',serif;font-size:42.50px">c</text>
<text transform="translate(1117.85,32.54) scale(0.7796,1)" style="font-family:'Liberation Serif','Times New Roman',serif;font-size:49.33px">)</text>
<text transform="translate(114.63,379.10) scale(1.1062,1)" style="font-family:'Liberation Serif','Times New Roman',serif;font-style:italic;font-size:38.77px">L</text>
<text transform="translate(188.69,535.90) scale(1.0146,1)" style="font-family:'Liberation Serif','Times New Roman',serif;font-style:italic;font-size:38.32px">D</text>
<text transform="translate(238.31,330.90) scale(0.8216,1)" style="font-family:'Liberation Serif','Times New Roman',serif;font-size:53.44px">Λ</text>
</svg>
</body></html>
